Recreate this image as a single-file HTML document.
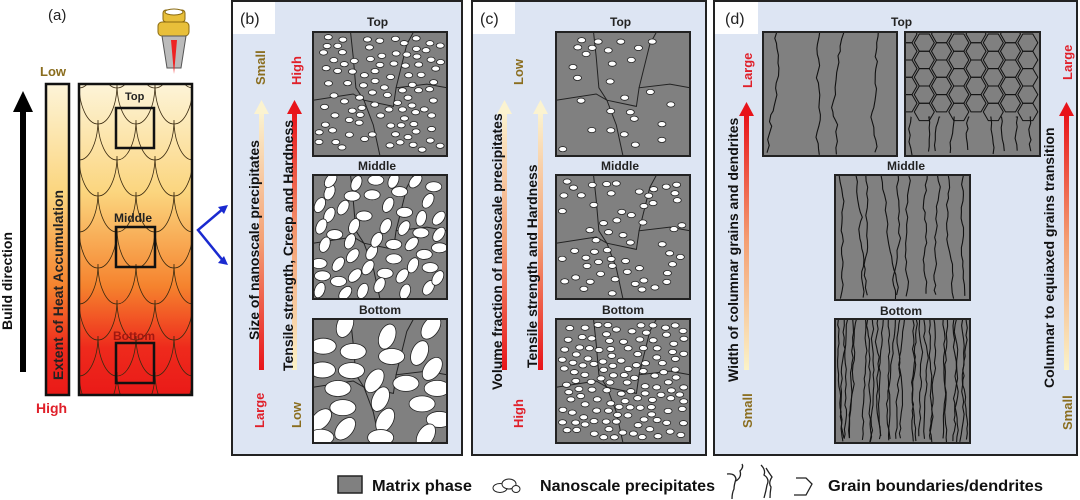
<!DOCTYPE html>
<html><head><meta charset="utf-8"><style>
html,body{margin:0;padding:0;background:#fff;width:1080px;height:500px;overflow:hidden}
svg{display:block}
text{font-family:"Liberation Sans",sans-serif;font-weight:bold}
</style></head><body>
<svg id="s" width="1080" height="500" viewBox="0 0 1080 500" xmlns="http://www.w3.org/2000/svg">
<defs>
<linearGradient id="heat" x1="0" y1="0" x2="0" y2="1">
<stop offset="0" stop-color="#fdf4d8"/><stop offset="0.35" stop-color="#fbd57e"/><stop offset="0.65" stop-color="#f5832e"/><stop offset="0.85" stop-color="#ee2a1c"/><stop offset="1" stop-color="#ea1a18"/></linearGradient>
<linearGradient id="upRed" x1="0" y1="1" x2="0" y2="0">
<stop offset="0" stop-color="#fbf3c8"/><stop offset="0.5" stop-color="#f4a074"/><stop offset="1" stop-color="#e8141a"/></linearGradient>
<linearGradient id="upPale" x1="0" y1="1" x2="0" y2="0">
<stop offset="0" stop-color="#e8141a"/><stop offset="0.5" stop-color="#f4a074"/><stop offset="1" stop-color="#fbf3d0"/></linearGradient>
<clipPath id="ca"><rect x="79" y="84" width="113" height="311"/></clipPath>
</defs>
<!-- Panel a -->
<text x="48" y="20" font-size="15" style="font-weight:normal" fill="#222">(a)</text>
<text x="40" y="76" font-size="13" fill="#8a6d1e">Low</text>
<text x="36" y="413" font-size="14" fill="#e0202a">High</text>
<rect x="46" y="84" width="23" height="311" fill="url(#heat)" stroke="#111" stroke-width="2.5"/>
<text transform="translate(63,380) rotate(-90)" font-size="14" fill="#222">Extent of Heat Accumulation</text>
<line x1="23" y1="372" x2="23" y2="110" stroke="#000" stroke-width="6"/>
<polygon points="13,112 33,112 23,91" fill="#000"/>
<text transform="translate(12,330) rotate(-90)" font-size="14" fill="#111">Build direction</text>
<rect x="79" y="84" width="113" height="311" fill="url(#heat)"/>
<g id="scales" clip-path="url(#ca)" fill="none" stroke="#3a2a10" stroke-width="0.8"></g>
<rect x="79" y="84" width="113" height="311" fill="none" stroke="#111" stroke-width="2.5"/>
<rect x="116" y="108" width="38" height="40" fill="none" stroke="#111" stroke-width="2.5"/>
<rect x="116" y="227" width="39" height="40" fill="none" stroke="#111" stroke-width="2.5"/>
<rect x="116" y="343" width="38" height="40" fill="none" stroke="#111" stroke-width="2.5"/>
<text x="125" y="100" font-size="11" fill="#222">Top</text>
<text x="114" y="222" font-size="12" fill="#222">Middle</text>
<text x="113" y="340" font-size="12" fill="#a01810">Bottom</text>
<!-- nozzle -->
<rect x="163" y="10" width="22" height="12" rx="3" fill="#e8bf3a" stroke="#8a6a10"/>
<ellipse cx="174" cy="12" rx="9" ry="3" fill="#fff" stroke="#8a6a10"/>
<rect x="158" y="22" width="31" height="14" rx="4" fill="#e8bf3a" stroke="#8a6a10"/>
<polygon points="162,36 186,36 181,68 167,68" fill="#bbb" stroke="#555"/>
<polygon points="171,40 177,40 174,74" fill="#e22"/>
<!-- blue arrows -->
<polyline points="224,208 198,230 224,262" fill="none" stroke="#1a2ad0" stroke-width="2.5"/>
<polygon points="228,205 218,207 224,214" fill="#1a2ad0"/>
<polygon points="228,265 218,263 224,256" fill="#1a2ad0"/>
<!-- panels -->
<rect x="232" y="1" width="230" height="454" fill="#dde5f3" stroke="#222" stroke-width="2"/>
<rect x="472" y="1" width="234" height="454" fill="#dde5f3" stroke="#222" stroke-width="2"/>
<rect x="714" y="1" width="363" height="454" fill="#dde5f3" stroke="#222" stroke-width="2"/>
<rect x="233" y="2" width="42" height="32" fill="#fff"/>
<rect x="473" y="2" width="42" height="32" fill="#fff"/>
<rect x="715" y="2" width="43" height="32" fill="#fff"/>
<text x="240" y="24" font-size="16" style="font-weight:normal" fill="#222">(b)</text>
<text x="480" y="24" font-size="16" style="font-weight:normal" fill="#222">(c)</text>
<text x="725" y="24" font-size="16" style="font-weight:normal" fill="#222">(d)</text>
<!-- b labels -->
<text x="367" y="26" font-size="12" fill="#222">Top</text>
<text x="358" y="170" font-size="12" fill="#222">Middle</text>
<text x="359" y="314" font-size="12" fill="#222">Bottom</text>
<rect x="259" y="112" width="5" height="258" fill="url(#upPale)"/>
<polygon points="254,114 269,114 261.5,100" fill="#fbf3d0"/>
<rect x="292" y="112" width="5" height="258" fill="url(#upRed)"/>
<polygon points="287,114 302,114 294.5,100" fill="#e8141a"/>
<text transform="translate(259,340) rotate(-90)" font-size="14" fill="#111">Size of nanoscale precipitates</text>
<text transform="translate(293,371) rotate(-90)" font-size="14" fill="#111">Tensile strength, Creep and Hardness</text>
<text transform="translate(265,85) rotate(-90)" font-size="13" fill="#8a6d1e">Small</text>
<text transform="translate(301,85) rotate(-90)" font-size="13" fill="#e0202a">High</text>
<text transform="translate(264,428) rotate(-90)" font-size="13" fill="#e0202a">Large</text>
<text transform="translate(301,428) rotate(-90)" font-size="13" fill="#8a6d1e">Low</text>
<!-- c labels -->
<text x="610" y="26" font-size="12" fill="#222">Top</text>
<text x="601" y="170" font-size="12" fill="#222">Middle</text>
<text x="602" y="314" font-size="12" fill="#222">Bottom</text>
<rect x="502" y="112" width="5" height="258" fill="url(#upPale)"/>
<polygon points="497,114 512,114 504.5,100" fill="#fbf3d0"/>
<rect x="538" y="112" width="5" height="258" fill="url(#upPale)"/>
<polygon points="533,114 548,114 540.5,100" fill="#fbf3d0"/>
<text transform="translate(502,390) rotate(-90)" font-size="14" fill="#111">Volume fraction of nanoscale precipitates</text>
<text transform="translate(537,368) rotate(-90)" font-size="14" fill="#111">Tensile strength and Hardness</text>
<text transform="translate(523,85) rotate(-90)" font-size="13" fill="#8a6d1e">Low</text>
<text transform="translate(523,428) rotate(-90)" font-size="13" fill="#e0202a">High</text>
<!-- d labels -->
<text x="891" y="26" font-size="12" fill="#222">Top</text>
<text x="887" y="170" font-size="12" fill="#222">Middle</text>
<text x="880" y="315" font-size="12" fill="#222">Bottom</text>
<rect x="744" y="114" width="5" height="256" fill="url(#upRed)"/>
<polygon points="739,116 754,116 746.5,102" fill="#e8141a"/>
<rect x="1064" y="114" width="5" height="256" fill="url(#upRed)"/>
<polygon points="1059,116 1074,116 1066.5,102" fill="#e8141a"/>
<text transform="translate(738,382) rotate(-90)" font-size="14" fill="#111">Width of columnar grains and dendrites</text>
<text transform="translate(1054,388) rotate(-90)" font-size="14" fill="#111">Columnar to equiaxed grains transition</text>
<text transform="translate(752,88) rotate(-90)" font-size="13" fill="#e0202a">Large</text>
<text transform="translate(1072,80) rotate(-90)" font-size="13" fill="#e0202a">Large</text>
<text transform="translate(752,428) rotate(-90)" font-size="13" fill="#8a6d1e">Small</text>
<text transform="translate(1072,430) rotate(-90)" font-size="13" fill="#8a6d1e">Small</text>
<g id="micro"></g>
<!-- legend -->
<rect x="338" y="476" width="24" height="17" fill="#808080" stroke="#222" stroke-width="1.5"/>
<text x="372" y="491" font-size="16" fill="#111" textLength="100" lengthAdjust="spacingAndGlyphs">Matrix phase</text>
<g fill="#fff" stroke="#222" stroke-width="1"><ellipse cx="500" cy="488" rx="7" ry="4.5"/><ellipse cx="509" cy="484" rx="7" ry="5"/><ellipse cx="516" cy="489" rx="4" ry="3.5"/></g>
<text x="540" y="491" font-size="16" fill="#111" textLength="175" lengthAdjust="spacingAndGlyphs">Nanoscale precipitates</text>
<g fill="none" stroke="#222" stroke-width="1.3">
<path d="M727,474 q8,-1 9,5 q-2,6 -2,10 q-2,4 -2,10 M736,481 q6,-4 4,-10 q4,-4 2,-7"/>
<path d="M761,465 q5,5 3,10 q6,4 3,10 q-1,6 -3,13 M766,468 q3,5 6,9 q-4,6 -1,10 q-1,6 -1,11"/>
<path d="M796,478 h10 l6,6 l-6,11 h-12"/>
</g>
<text x="828" y="491" font-size="16" fill="#111" textLength="215" lengthAdjust="spacingAndGlyphs">Grain boundaries/dendrites</text>
</svg>
<script>
(function(){
var NS="http://www.w3.org/2000/svg",s=document.getElementById('micro');
var seed=7;function r(){seed=(seed*16807)%2147483647;return (seed-1)/2147483646;}
function el(t,a,p){var e=document.createElementNS(NS,t);for(var k in a)e.setAttribute(k,a[k]);(p||s).appendChild(e);return e;}
var sc=document.getElementById('scales');
for(var row=-1;row<10;row++){var y=84+row*36,off=(row%2)?19:0;var d="";
 for(var x=41+off;x<210;x+=38){d+="M"+x+","+y+" A19,40 0 0 0 "+(x+38)+","+y+" ";}
 el('path',{d:d},sc);}
function box(x,y,w,h){var g=el('g',{});el('rect',{x:x,y:y,width:w,height:h,fill:'#808080'},g);
 var cp=el('clipPath',{id:'c'+x+'_'+y},g);el('rect',{x:x,y:y,width:w,height:h},cp);
 var inner=el('g',{'clip-path':'url(#c'+x+'_'+y+')'},g);return {g:g,inner:inner,x:x,y:y,w:w,h:h};}
function border(b){el('rect',{x:b.x,y:b.y,width:b.w,height:b.h,fill:'none',stroke:'#222','stroke-width':2},b.g);}
function gb(b,pts){var d="M"+pts.map(function(p){return (b.x+p[0]*b.w)+","+(b.y+p[1]*b.h)}).join(" L");
 el('path',{d:d,fill:'none',stroke:'#222','stroke-width':1},b.inner);}
function grains(b){gb(b,[[0.28,0],[0.3,0.2],[0.32,0.45],[0.38,0.55],[0.45,0.75],[0.5,1]]);
 gb(b,[[0,0.55],[0.3,0.5],[0.38,0.55],[0.6,0.6],[0.62,0.45],[0.85,0.42],[1,0.45]]);
 gb(b,[[0.62,0.45],[0.7,0.1],[0.75,0]]);}
function parts(b,n,rx,ry,rot){var cnt=0,tries=0,pl=[];
 while(cnt<n&&tries<8000){tries++;var cx=b.x+6+r()*(b.w-12),cy=b.y+5+r()*(b.h-10),ok=true;
  for(var i=0;i<pl.length;i++){var dx=pl[i][0]-cx,dy=pl[i][1]-cy;if(dx*dx/((2*rx+1.5)*(2*rx+1.5))+dy*dy/((2*ry+1.5)*(2*ry+1.5))<1){ok=false;break;}}
  if(!ok)continue;pl.push([cx,cy]);cnt++;
  var a=rot?(-45-r()*30):0;if(rot&&r()<0.4)a=0;
  el('ellipse',{cx:cx,cy:cy,rx:rx,ry:ry,fill:'#fff',stroke:'#222','stroke-width':0.8,transform:'rotate('+a+' '+cx+' '+cy+')'},b.inner);}}
var b1=box(313,32,134,124);grains(b1);parts(b1,95,4,2.6,false);border(b1);
var b2=box(313,175,134,124);grains(b2);parts(b2,60,8,5,true);border(b2);
var b3=box(313,319,134,124);grains(b3);parts(b3,28,13,8,true);border(b3);
var c1=box(556,32,134,124);grains(c1);parts(c1,28,4,2.6,false);border(c1);
var c2=box(556,175,134,124);grains(c2);parts(c2,60,4,2.6,false);border(c2);
var c3=box(556,319,134,124);grains(c3);parts(c3,130,4,2.6,false);border(c3);
function cols(b,n,amp){for(var i=0;i<n;i++){var x0=b.x+(i+0.5)*b.w/n+(r()-0.5)*b.w/n*0.5;var d="M"+x0+","+b.y;var x=x0;
 for(var y=b.y;y<=b.y+b.h;y+=4+r()*4){x+=(r()-0.5)*amp;d+=" L"+x.toFixed(1)+","+y.toFixed(1);}
 el('path',{d:d,fill:'none',stroke:'#111','stroke-width':1.1},b.inner);}}
var d1=box(763,32,134,124);cols(d1,4,5);border(d1);
var d2=box(905,32,135,124);
(function(){var R=10,h=R*Math.sqrt(3);for(var row=0;row<7;row++)for(var col=0;col<8;col++){var cx=d2.x+col*1.5*R*1.15+2,cy=d2.y+row*h+((col%2)?h/2:0)+2;
 if(cy>d2.y+85)continue;var p=[];for(var k=0;k<6;k++){var a=Math.PI/3*k;p.push((cx+R*Math.cos(a)).toFixed(1)+","+(cy+R*Math.sin(a)).toFixed(1));}
 el('polygon',{points:p.join(" "),fill:'none',stroke:'#111','stroke-width':1},d2.inner);}
 cols({x:d2.x,y:d2.y+85,w:d2.w,h:39,inner:d2.inner},9,4);})();
border(d2);
var d3=box(835,175,135,125);cols(d3,10,4);border(d3);
var d4=box(835,319,135,124);cols(d4,26,3);border(d4);
})();
</script>
</body></html>
